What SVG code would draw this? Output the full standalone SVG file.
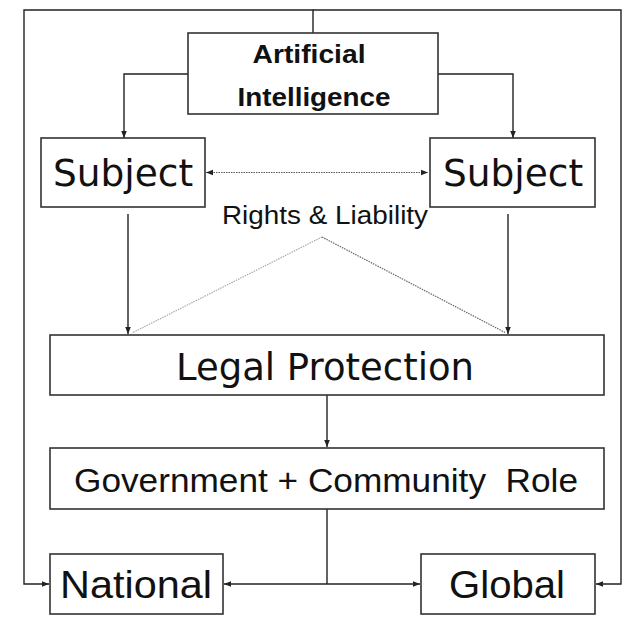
<svg xmlns="http://www.w3.org/2000/svg" width="634" height="637" viewBox="0 0 634 637">
<defs>
<style>
.box{fill:#fff;stroke:#333;stroke-width:1.6}
.ln{fill:none;stroke:#222;stroke-width:1.4}
.dot{fill:none;stroke:#555;stroke-width:1.2;stroke-dasharray:1.5 1}
.sans{font-family:"Liberation Sans",Arial,sans-serif;fill:#111}
.tah{font-family:"DejaVu Sans",Verdana,sans-serif;fill:#111}
</style>
<marker id="ah" viewBox="0 0 10 10" refX="10" refY="5" markerWidth="7" markerHeight="7" markerUnits="userSpaceOnUse" orient="auto-start-reverse">
<path d="M0,1 L10,5 L0,9 z" fill="#222"/>
</marker>
</defs>
<rect width="634" height="637" fill="#fff"/>
<g id="connectors">
<path class="ln" d="M313,33 V10 H24 V584 H49" marker-end="url(#ah)" stroke="#444"/>
<path class="ln" d="M313,10 H621 V584 H596" marker-end="url(#ah)" stroke="#444"/>
<path class="ln" d="M188,74 H124 V138" marker-end="url(#ah)"/>
<path class="ln" d="M438,74 H513 V138" marker-end="url(#ah)"/>
<path class="dot" d="M206,172.5 H428" marker-start="url(#ah)" marker-end="url(#ah)"/>
<path class="ln" d="M128,214 V334" marker-end="url(#ah)"/>
<path class="ln" d="M508,214 V334" marker-end="url(#ah)"/>
<path d="M322,237 L132,333" fill="none" stroke="#aaa" stroke-width="1.2" stroke-dasharray="1.5 1"/>
<path d="M322,237 L506,333" fill="none" stroke="#666" stroke-width="1.2" stroke-dasharray="1.5 1"/>
<path class="ln" d="M327,395 V447" marker-end="url(#ah)"/>
<path class="ln" d="M327,509 V584"/>
<path class="ln" d="M327,584 H224" marker-end="url(#ah)"/>
<path class="ln" d="M327,584 H420" marker-end="url(#ah)"/>
</g>
<g id="ai">
<rect class="box" x="188" y="33" width="250" height="81"/>
<text class="sans" x="309" y="63" font-size="25.5" font-weight="bold" text-anchor="middle" textLength="113" lengthAdjust="spacingAndGlyphs">Artificial</text>
<text class="sans" x="314" y="106" font-size="25.5" font-weight="bold" text-anchor="middle" textLength="153" lengthAdjust="spacingAndGlyphs">Intelligence</text>
</g>
<g id="subject-left">
<rect class="box" x="41" y="138" width="164" height="69"/>
<text class="tah" x="123" y="186" font-size="37.5" text-anchor="middle">Subject</text>
</g>
<g id="subject-right">
<rect class="box" x="430" y="138" width="165" height="69"/>
<text class="tah" x="513" y="186" font-size="37.5" text-anchor="middle">Subject</text>
</g>
<g id="rights">
<text class="sans" x="325" y="224" font-size="25.5" text-anchor="middle" textLength="206" lengthAdjust="spacingAndGlyphs">Rights &amp; Liability</text>
</g>
<g id="legal">
<rect class="box" x="50" y="335" width="554" height="60"/>
<text class="tah" x="325" y="380" font-size="37" text-anchor="middle">Legal Protection</text>
</g>
<g id="gov">
<rect class="box" x="50" y="448" width="554" height="61"/>
<text class="sans" x="326" y="492" font-size="32.5" text-anchor="middle" textLength="504" lengthAdjust="spacingAndGlyphs" xml:space="preserve">Government + Community  Role</text>
</g>
<g id="national">
<rect class="box" x="50" y="554" width="173" height="60"/>
<text class="sans" x="136" y="598" font-size="38" text-anchor="middle" textLength="152" lengthAdjust="spacingAndGlyphs">National</text>
</g>
<g id="global">
<rect class="box" x="421" y="554" width="174" height="60"/>
<text class="sans" x="507" y="598" font-size="38" text-anchor="middle" textLength="116" lengthAdjust="spacingAndGlyphs">Global</text>
</g>
</svg>
